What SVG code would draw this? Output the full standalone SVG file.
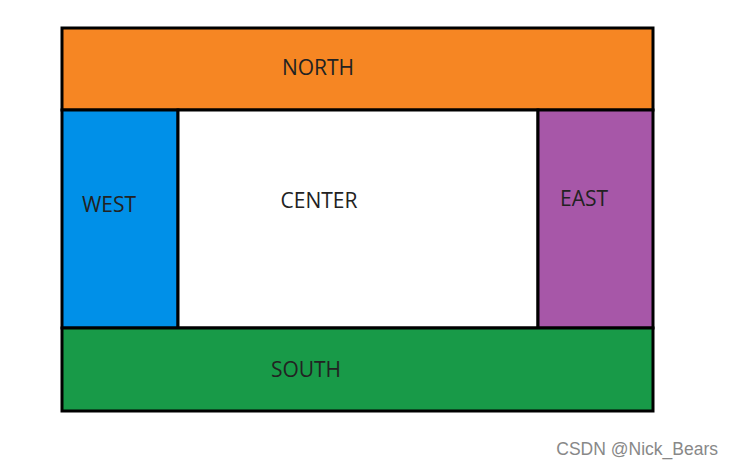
<svg xmlns="http://www.w3.org/2000/svg" width="734" height="468" viewBox="0 0 734 468">
<style>
.r{stroke:#000;stroke-width:3}
.t{font-family:"Open Sans","Liberation Sans",sans-serif;font-size:21px;fill:#222;text-anchor:middle}
</style>
<rect width="734" height="468" fill="#fff"/>
<g id="north"><rect class="r" x="62" y="28" width="591" height="82" fill="#F68623"/><text class="t" x="318" y="75">NORTH</text></g>
<g id="west"><rect class="r" x="62" y="110" width="116" height="218" fill="#0090E8"/><text class="t" x="109" y="212">WEST</text></g>
<g id="center"><rect class="r" x="178" y="110" width="360" height="218" fill="#fff"/><text class="t" x="319" y="208">CENTER</text></g>
<g id="east"><rect class="r" x="538" y="110" width="115" height="218" fill="#A757A8"/><text class="t" x="584" y="206">EAST</text></g>
<g id="south"><rect class="r" x="62" y="328" width="591" height="83" fill="#189A48"/><text class="t" x="306" y="377">SOUTH</text></g>
<g id="connectors"/>
<text x="718" y="455" font-family="Liberation Sans,sans-serif" font-size="17.5" fill="#888" text-anchor="end">CSDN @Nick_Bears</text>
</svg>
